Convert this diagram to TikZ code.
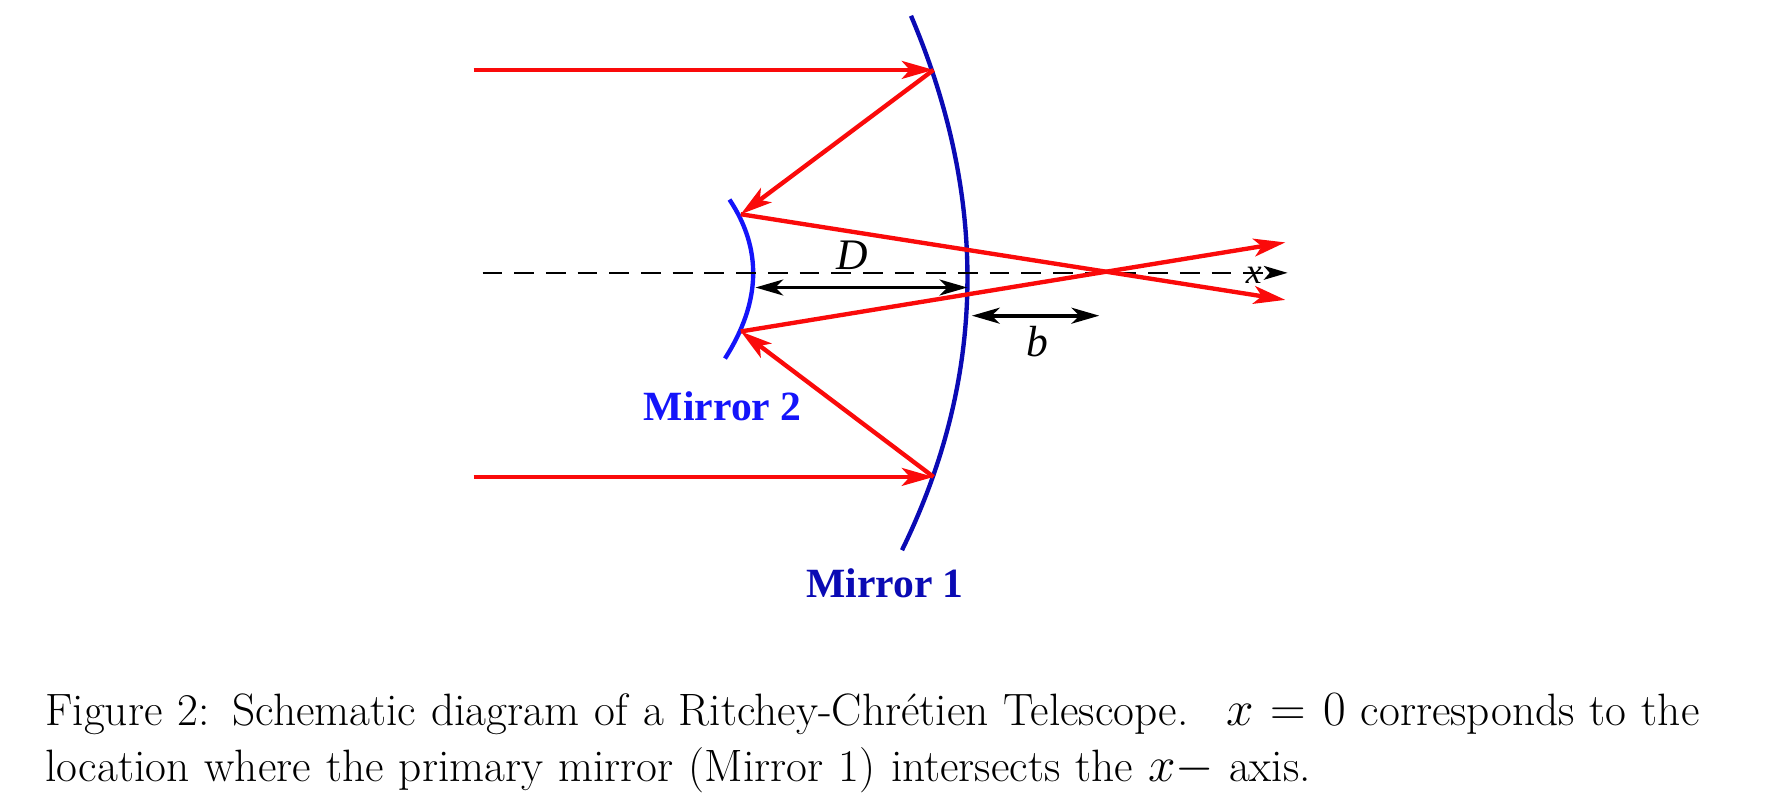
\documentclass[tikz,border=0pt]{standalone}
\usepackage{fontspec}
\newfontfamily\timesf{Liberation Serif}
\usetikzlibrary{arrows.meta}
\definecolor{mone}{RGB}{10,10,180}
\definecolor{mtwo}{RGB}{20,20,250}
\definecolor{ray}{RGB}{250,10,10}
\begin{document}
\begin{tikzpicture}[x=0.02cm,y=-0.02cm,
  rayline/.style={draw=ray,line width=2.2pt,-{Stealth[length=16pt,width=9pt,inset=4pt]}},
  dimline/.style={draw=black,line width=2pt,{Stealth[length=14pt,width=8pt,inset=4pt]}-{Stealth[length=14pt,width=8pt,inset=4pt]}}]
\useasboundingbox (0,0) rectangle (1569,716);
% mirrors
\coordinate (m1a) at (808,14); \coordinate (m1b) at (800,488);
\draw[mone,line width=2.2pt] (m1a) .. controls (877.3,177.3) and (874.7,335.3) .. (m1b);
\coordinate (m2a) at (647,177); \coordinate (m2b) at (643,318);
\draw[mtwo,line width=2.2pt] (m2a) .. controls (676.3,221) and (675,268) .. (m2b);
% axis
\coordinate (ax0) at (428,242); \coordinate (ax1) at (1142,242);
\draw[dashed,line width=1.3pt,dash pattern=on 10pt off 6pt,-{Stealth[length=12pt,width=7pt,inset=3pt]}] (ax0) -- (ax1);
\node[font=\timesf\itshape\fontsize{18}{20}\selectfont] (xl) at (1112,244) {x};
% rays
\coordinate (t0) at (420,62); \coordinate (t1) at (828,62);
\coordinate (t2) at (657,190);
\coordinate (b0) at (420,423); \coordinate (b1) at (828,423);
\coordinate (b2) at (657,294);
\coordinate (e1) at (1140,266); \coordinate (e2) at (1140,215);
\draw[rayline] (t0) -- (t1);
\draw[rayline] (t1) -- (t2);
\draw[rayline] (t2) -- (e1);
\draw[rayline] (b0) -- (b1);
\draw[rayline] (b1) -- (b2);
\draw[rayline] (b2) -- (e2);
% dimensions
\coordinate (d0) at (670,255); \coordinate (d1) at (858,255);
\draw[dimline] (d0) -- (d1);
\node[font=\timesf\itshape\fontsize{22}{24}\selectfont] (Dl) at (756,226) {D};
\coordinate (c0) at (862,280); \coordinate (c1) at (975,280);
\draw[dimline] (c0) -- (c1);
\node[font=\timesf\itshape\fontsize{22}{24}\selectfont] (bl) at (920,303) {b};
% labels
\node[font=\timesf\bfseries\fontsize{21}{24}\selectfont,text=mtwo] (m2l) at (641,360) {Mirror 2};
\node[font=\timesf\bfseries\fontsize{21}{24}\selectfont,text=mone] (m1l) at (785,517) {Mirror 1};
% caption
\node[anchor=north west,inner sep=0pt,text width=29.74cm,font=\fontsize{22.9}{28.4}\selectfont] (cap) at (40,615)
{Figure 2: Schematic diagram of a Ritchey-Chr\'etien Telescope. \ $x=0$ corresponds to the\linebreak location where the primary mirror (Mirror 1) intersects the $x-$ axis.};
\end{tikzpicture}
\end{document}
